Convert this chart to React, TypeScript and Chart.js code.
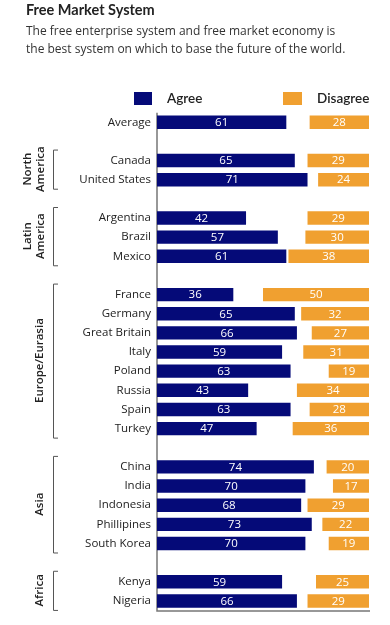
import { useEffect, useRef } from 'react';
import { Chart, registerables } from 'chart.js';

Chart.register(...registerables);

const categories = ['Average', '', 'Canada', 'United States', '', 'Argentina', 'Brazil', 'Mexico', '', 'France', 'Germany', 'Great Britain', 'Italy', 'Poland', 'Russia', 'Spain', 'Turkey', '', 'China', 'India', 'Indonesia', 'Phillipines', 'South Korea', '', 'Kenya', 'Nigeria'];
const agree = [61, null, 65, 71, null, 42, 57, 61, null, 36, 65, 66, 59, 63, 43, 63, 47, null, 74, 70, 68, 73, 70, null, 59, 66];
const disagree = [28, null, 29, 24, null, 29, 30, 38, null, 50, 32, 27, 31, 19, 34, 28, 36, null, 20, 17, 29, 22, 19, null, 25, 29];
const groupNames = [['North', 'America'], ['Latin', 'America'], ['Europe/Eurasia'], ['Asia'], ['Africa']];
const groupFirst = ['Canada', 'Argentina', 'France', 'China', 'Kenya'];
const groupLast = ['United States', 'Mexico', 'Turkey', 'South Korea', 'Nigeria'];
const seriesNames = ['Agree', 'Disagree'];
const titleText = 'Free Market System';
const subtitleLines = ['The free enterprise system and free market economy is', 'the best system on which to base the future of the world.'];

const NAVY = '#050a78';
const ORANGE = '#f0a030';
const FONT = 'Lato, "Open Sans", sans-serif';
const FONT2 = '"Open Sans", Lato, sans-serif';
const TEXT = '#222222';

export default function App() {
  const ref = useRef<HTMLCanvasElement | null>(null);
  useEffect(() => {
    const agreeFloat = agree.map((v) => (v == null ? null : [0, v]));
    const disFloat = disagree.map((v) => (v == null ? null : [100 - v, 100]));

    const decor = {
      id: 'decor',
      beforeDatasetsDraw(chart: any) {
        const { ctx, chartArea } = chart;
        ctx.save();
        ctx.strokeStyle = '#777777';
        ctx.lineWidth = 1.5;
        ctx.beginPath();
        ctx.moveTo(chartArea.left, chartArea.top);
        ctx.lineTo(chartArea.left, chartArea.bottom + 0.5);
        ctx.lineTo(chartArea.right + 1, chartArea.bottom + 0.5);
        ctx.stroke();
        ctx.restore();
      },
      afterDraw(chart: any) {
        const { ctx } = chart;
        const y = chart.scales.y;
        ctx.save();
        // title
        ctx.fillStyle = TEXT;
        ctx.textBaseline = 'alphabetic';
        ctx.textAlign = 'left';
        ctx.font = `bold 14.5px ${FONT}`;
        ctx.fillText(titleText, 26, 15);
        ctx.fillStyle = '#333333';
        ctx.font = `12px ${FONT2}`;
        subtitleLines.forEach((l, i) => ctx.fillText(l, 26, 35 + i * 18));
        // legend
        ctx.textBaseline = 'middle';
        ctx.fillStyle = NAVY;
        ctx.fillRect(134, 92, 18, 13);
        ctx.fillStyle = ORANGE;
        ctx.fillRect(283, 92, 19, 13);
        ctx.fillStyle = TEXT;
        ctx.font = `600 13.5px ${FONT}`;
        ctx.fillText(seriesNames[0], 167, 98.5);
        ctx.fillText(seriesNames[1], 317, 98.5);
        // group brackets
        groupNames.forEach((name, gi) => {
          const i0 = categories.indexOf(groupFirst[gi]);
          const i1 = categories.indexOf(groupLast[gi]);
          const top = y.getPixelForValue(i0) - 11;
          const bot = y.getPixelForValue(i1) + 9;
          ctx.strokeStyle = '#555555';
          ctx.lineWidth = 1;
          ctx.beginPath();
          ctx.moveTo(58, top + 0.5);
          ctx.lineTo(53.5, top + 0.5);
          ctx.lineTo(53.5, bot + 0.5);
          ctx.lineTo(58, bot + 0.5);
          ctx.stroke();
          const cy = (top + bot) / 2;
          ctx.save();
          ctx.fillStyle = TEXT;
          ctx.font = `600 11.5px ${FONT2}`;
          ctx.textAlign = 'center';
          ctx.textBaseline = 'middle';
          const xs = name.length === 2 ? [28, 41] : [40];
          name.forEach((line, li) => {
            ctx.save();
            ctx.translate(xs[li], cy);
            ctx.rotate(-Math.PI / 2);
            ctx.fillText(line, 0, 0);
            ctx.restore();
          });
          ctx.restore();
        });
        // value labels
        ctx.fillStyle = '#ffffff';
        ctx.font = `11.5px ${FONT2}`;
        ctx.textAlign = 'center';
        ctx.textBaseline = 'middle';
        chart.data.datasets.forEach((ds: any, di: number) => {
          const meta = chart.getDatasetMeta(di);
          const vals = di === 0 ? agree : disagree;
          meta.data.forEach((el: any, i: number) => {
            const v = vals[i];
            if (v == null) return;
            const p = el.getProps(['x', 'y', 'base'], true);
            ctx.fillText(String(v), (p.x + p.base) / 2, p.y + 0.5);
          });
        });
        ctx.restore();
      },
    };

    const chart = new Chart(ref.current as HTMLCanvasElement, {
      type: 'bar',
      data: {
        labels: categories,
        datasets: [
          { label: seriesNames[0], data: agreeFloat as any, backgroundColor: NAVY, grouped: false, barPercentage: 0.7, categoryPercentage: 1 },
          { label: seriesNames[1], data: disFloat as any, backgroundColor: ORANGE, grouped: false, barPercentage: 0.7, categoryPercentage: 1 },
        ],
      },
      options: {
        indexAxis: 'y',
        responsive: false,
        animation: false,
        layout: { padding: { top: 112.7, bottom: 14.5, right: 21, left: 0 } },
        plugins: { legend: { display: false }, tooltip: { enabled: false } },
        scales: {
          x: { display: false, min: 0, max: 100 },
          y: {
            grid: { display: false, drawTicks: false },
            border: { display: false },
            ticks: { padding: 6, color: TEXT, autoSkip: false, font: { family: FONT2, size: 11.5 } },
            afterFit: (s: any) => {
              s.width = 157;
            },
          },
        },
      } as any,
      plugins: [decor],
    });
    return () => chart.destroy();
  }, []);

  return (
    <div style={{ position: 'absolute', left: 0, top: 0, width: 390, height: 625, background: '#fff' }}>
      <canvas ref={ref} width={390} height={625} style={{ display: 'block' }} />
    </div>
  );
}
